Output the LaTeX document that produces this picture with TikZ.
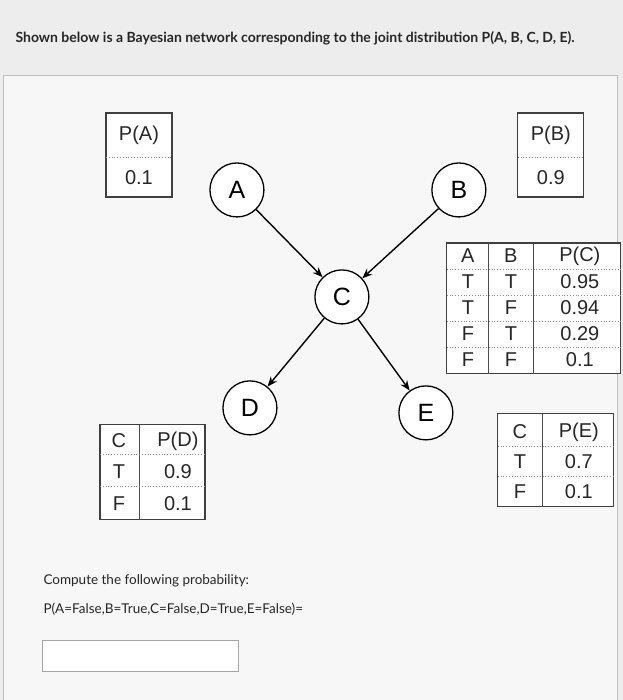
\documentclass[tikz,border=0pt]{standalone}
\usepackage{fontspec}
\setmainfont{Liberation Sans}
\newfontfamily\latofont{Lato}
\usetikzlibrary{arrows.meta}
\begin{document}
\begin{tikzpicture}[x=1pt,y=-1pt,
  tbl/.style={draw=black!75,line width=1.2pt,fill=white},
  dv/.style={draw=black!45,dotted,line width=0.8pt},
  vl/.style={draw=black!70,line width=1pt},
  nd/.style={circle,draw=black,line width=1.3pt,fill=white,minimum size=54pt,inner sep=0pt,font=\fontsize{25}{25}\selectfont},
  tx/.style={font=\fontsize{20}{20}\selectfont,text=black!85,inner sep=0pt},
  arr/.style={-{Stealth[length=10pt,width=8pt]},line width=1.4pt}]
\path[fill=black!7] (0,0) rectangle (623,700);
\path[fill=black!3,draw=black!25] (3,75) rectangle (617,700);
\node[anchor=west,font=\latofont\bfseries\fontsize{14}{15}\selectfont,text=black!85] (hdr) at (12,38) {Shown below is a Bayesian network corresponding to the joint distribution P(A, B, C, D, E).};
% P(A)
\path[tbl] (106,113) rectangle (172,197); \draw[dv] (106,157)--(172,157);
\node[tx] (pa) at (139,135) {P(A)}; \node[tx] (pav) at (139,178) {0.1};
% P(B)
\path[tbl] (518,113) rectangle (584,197); \draw[dv] (518,157)--(584,157);
\node[tx] (pb) at (551,135) {P(B)}; \node[tx] (pbv) at (551,178) {0.9};
% nodes
\node[nd] (A) at (237,190) {A};
\node[nd] (B) at (459,190) {B};
\node[nd] (C) at (342,297) {C};
\node[nd] (D) at (250,408) {D};
\node[nd] (E) at (426,413) {E};
\draw[arr] (A)--(C); \draw[arr] (B)--(C); \draw[arr] (C)--(D); \draw[arr] (C)--(E);
% C table
\path[tbl] (447,243) rectangle (621,374);
\draw[vl] (489,243)--(489,374); \draw[vl] (534,243)--(534,374);
\foreach \y in {269,295,321,347} \draw[dv] (447,\y)--(621,\y);
\foreach \a/\b/\p [count=\i] in {A/B/P(C),T/T/0.95,T/F/0.94,F/T/0.29,F/F/0.1}{
  \node[tx] (ca\i) at (468,243+26*\i-13) {\a};
  \node[tx] (cb\i) at (511,243+26*\i-13) {\b};
  \node[tx] (cp\i) at (580,243+26*\i-13) {\p};}
% D table
\path[tbl] (100,425) rectangle (205,520);
\draw[vl] (140,425)--(140,520);
\draw[dv] (100,455)--(205,455); \draw[dv] (100,487)--(205,487);
\node[tx] (d1) at (119,441) {C}; \node[tx] (d2) at (178,441) {P(D)};
\node[tx] (d3) at (119,472) {T}; \node[tx] (d4) at (178,472) {0.9};
\node[tx] (d5) at (119,504) {F}; \node[tx] (d6) at (178,504) {0.1};
% E table
\path[tbl] (498,414) rectangle (614,507);
\draw[vl] (543,414)--(543,507);
\draw[dv] (498,447)--(614,447); \draw[dv] (498,477)--(614,477);
\node[tx] (e1) at (520,432) {C}; \node[tx] (e2) at (579,432) {P(E)};
\node[tx] (e3) at (520,462) {T}; \node[tx] (e4) at (579,462) {0.7};
\node[tx] (e5) at (520,492) {F}; \node[tx] (e6) at (579,492) {0.1};
% question
\node[anchor=west,font=\latofont\fontsize{13.5}{14}\selectfont,text=black!85] (q1) at (40,581) {Compute the following probability:};
\node[anchor=west,font=\latofont\fontsize{13.5}{14}\selectfont,text=black!85] (q2) at (40,609) {P(A=False,B=True,C=False,D=True,E=False)=};
\path[draw=black!35,fill=white,line width=0.8pt] (42,641) rectangle (238,672);
\end{tikzpicture}
\end{document}
